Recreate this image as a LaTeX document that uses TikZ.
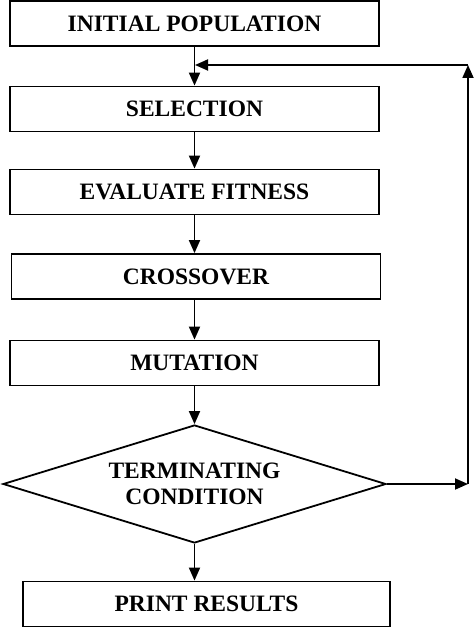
\documentclass[tikz,border=0pt]{standalone}
\usepackage{fontspec}
\setmainfont{Liberation Serif}
\usetikzlibrary{shapes.geometric,arrows.meta}
\begin{document}
\begin{tikzpicture}[x=1pt,y=-1pt,
  box/.style={draw,line width=1.8pt,rectangle,inner sep=0pt,minimum width=369pt,minimum height=45pt,font=\fontsize{23.5}{26}\selectfont\bfseries},
  dec/.style={draw,line width=1.8pt,diamond,aspect=3.25,inner sep=0pt,minimum width=383pt,minimum height=118pt,align=center,font=\fontsize{23.5}{25.5}\selectfont\bfseries},
  arr/.style={line width=1.8pt,-{Triangle[length=13pt,width=11pt]}}]
\useasboundingbox (0,0) rectangle (474,628);
\node[box] (init) at (194.5,23.5) {INITIAL POPULATION};
\node[box] (sel) at (194.5,109) {SELECTION};
\node[box] (eval) at (194.5,192) {EVALUATE FITNESS};
\node[box] (cross) at (196,276.5) {CROSSOVER};
\node[box] (mut) at (194.5,363) {MUTATION};
\node[dec] (cond) at (194.5,484) {TERMINATING\\CONDITION};
\node[box,minimum width=367pt] (print) at (206.5,604) {PRINT RESULTS};
\coordinate (fbR) at (468,484);
\coordinate (fbT) at (468,65);
\coordinate (fbL) at (195,65);
\draw[arr] (init.south -| sel.north) -- (sel.north);
\draw[arr] (sel.south) -- (eval.north);
\draw[arr] (eval.south) -- (eval.south |- cross.north);
\draw[arr] (eval.south |- cross.south) -- (mut.north);
\draw[arr] (mut.south) -- (cond.north);
\draw[arr] (cond.south) -- (cond.south |- print.north);
\draw[arr] (cond.east) -- (fbR);
\draw[arr] (fbR) -- (fbT);
\draw[arr] (fbT) -- (fbL);
\end{tikzpicture}
\end{document}
